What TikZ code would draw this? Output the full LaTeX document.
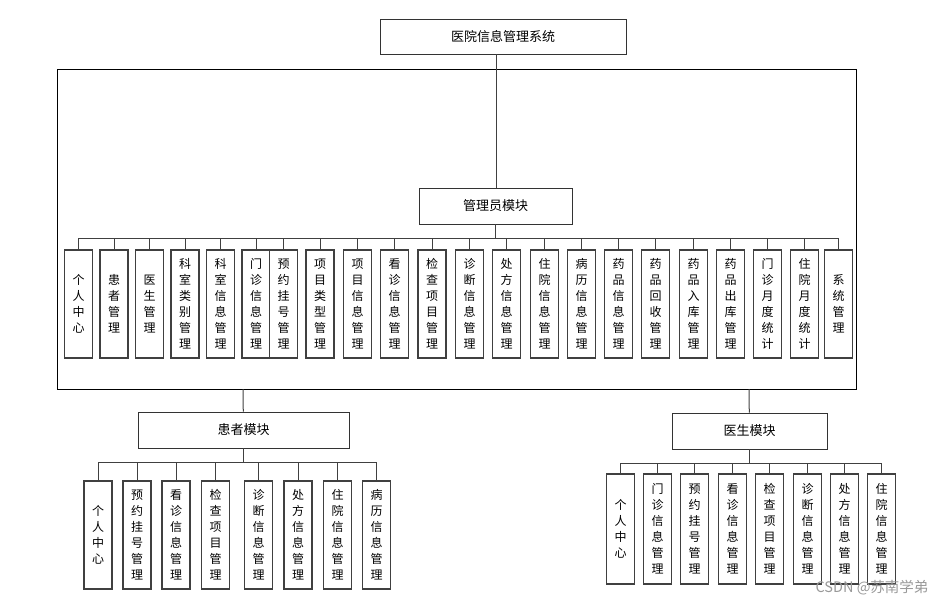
\documentclass[tikz,border=0pt]{standalone}
\usepackage{fontspec}
\setmainfont{Noto Sans CJK SC}
\begin{document}
\begin{tikzpicture}[x=1pt,y=-1pt,
  box/.style={draw=black!80,line width=0.9pt,fill=white,inner sep=0pt,font=\fontsize{13}{15}\selectfont},
  vb/.style={draw=black!75,line width=1.1pt,fill=white,inner sep=0pt,minimum width=28pt,align=center,font=\fontsize{12}{16}\selectfont},
  ln/.style={draw=black!75,line width=1pt}]
\useasboundingbox (0,0) rectangle (944,606);
\node[box,minimum width=246pt,minimum height=35pt] (top) at (503,36.5) {医院信息管理系统};
\draw[line width=0.9pt] (57,69) rectangle (856,389);
\coordinate (ft) at (496,69);
\coordinate (fb1) at (243,389);
\coordinate (fb2) at (749,389);
\node[box,minimum width=153pt,minimum height=36pt] (adm) at (495.5,206) {管理员模块};
\draw[ln] (top.south -| ft) -- (ft);
\draw[ln] (ft) -- (adm.north -| ft);
\coordinate (abus) at (495.5,238);
\draw[ln] (adm) -- (abus);
\draw[ln] (78.5,238) -- (838.5,238);
\foreach \x/\t [count=\i] in {78.5/{个\\人\\中\\心},114/{患\\者\\管\\理},149.5/{医\\生\\管\\理},185/{科\\室\\类\\别\\管\\理},220.5/{科\\室\\信\\息\\管\\理},256/{门\\诊\\信\\息\\管\\理},283.5/{预\\约\\挂\\号\\管\\理},320/{项\\目\\类\\型\\管\\理},357.5/{项\\目\\信\\息\\管\\理},394.5/{看\\诊\\信\\息\\管\\理},432/{检\\查\\项\\目\\管\\理},469.5/{诊\\断\\信\\息\\管\\理},506.5/{处\\方\\信\\息\\管\\理},544.5/{住\\院\\信\\息\\管\\理},581.5/{病\\历\\信\\息\\管\\理},618.5/{药\\品\\信\\息\\管\\理},655.5/{药\\品\\回\\收\\管\\理},693.5/{药\\品\\入\\库\\管\\理},730.5/{药\\品\\出\\库\\管\\理},767.5/{门\\诊\\月\\度\\统\\计},804.5/{住\\院\\月\\度\\统\\计},838.5/{系\\统\\管\\理}}{
  \coordinate (at\i) at (\x,238);
  \node[vb,minimum height=108pt] (a\i) at (\x,304) {\t};
  \draw[ln] (at\i) -- (a\i);
}
% patient
\node[box,minimum width=211pt,minimum height=36pt] (pat) at (243.5,430) {患者模块};
\draw[ln] (fb1) -- (pat);
\coordinate (pbus) at (243.5,462);
\draw[ln] (pat) -- (pbus);
\draw[ln] (98,462) -- (376.5,462);
\foreach \x/\t [count=\i] in {98/{个\\人\\中\\心},137/{预\\约\\挂\\号\\管\\理},176/{看\\诊\\信\\息\\管\\理},215.5/{检\\查\\项\\目\\管\\理},258.5/{诊\\断\\信\\息\\管\\理},298/{处\\方\\信\\息\\管\\理},337.5/{住\\院\\信\\息\\管\\理},376.5/{病\\历\\信\\息\\管\\理}}{
  \coordinate (pt\i) at (\x,462);
  \node[vb,minimum height=108pt] (p\i) at (\x,535) {\t};
  \draw[ln] (pt\i) -- (p\i);
}
% doctor
\node[box,minimum width=155pt,minimum height=36pt] (doc) at (749.5,431) {医生模块};
\draw[ln] (fb2) -- (doc);
\coordinate (dbus) at (749.5,463);
\draw[ln] (doc) -- (dbus);
\draw[ln] (620.5,463) -- (881.5,463);
\foreach \x/\t [count=\i] in {620.5/{个\\人\\中\\心},657.5/{门\\诊\\信\\息\\管\\理},694.5/{预\\约\\挂\\号\\管\\理},732.5/{看\\诊\\信\\息\\管\\理},769.5/{检\\查\\项\\目\\管\\理},807.5/{诊\\断\\信\\息\\管\\理},844.5/{处\\方\\信\\息\\管\\理},881.5/{住\\院\\信\\息\\管\\理}}{
  \coordinate (dt\i) at (\x,463);
  \node[vb,minimum height=110pt] (d\i) at (\x,529) {\t};
  \draw[ln] (dt\i) -- (d\i);
}
\node[text=black!40,font=\fontsize{14.5}{16}\selectfont,anchor=east] (wm) at (932,588) {CSDN @苏南学弟};
\end{tikzpicture}
\end{document}
